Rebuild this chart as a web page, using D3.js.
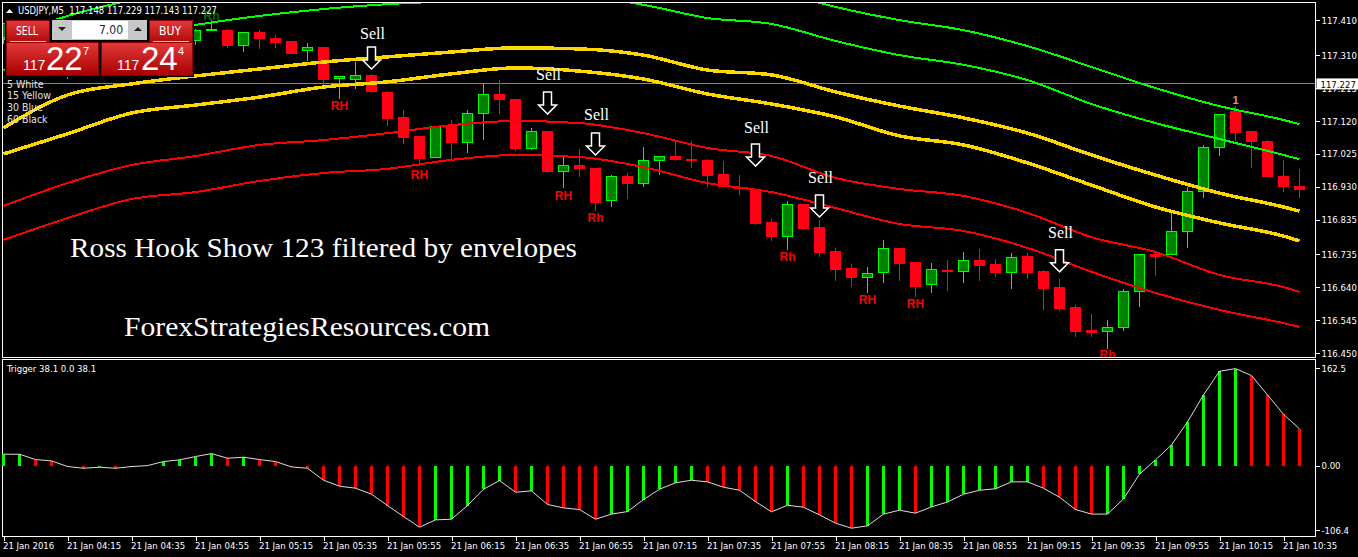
<!DOCTYPE html>
<html>
<head>
<meta charset="utf-8">
<title>Ross Hook Show 123</title>
<script src="https://cdn.jsdelivr.net/npm/d3@7"></script>
<style>
    html, body { margin: 0; padding: 0; background: #000; overflow: hidden; }
    svg { display: block; }
    .axis text { fill: #fff; font-family: "DejaVu Sans Condensed", "DejaVu Sans", sans-serif; font-size: 9.5px; }
    .axis line, .axis path { stroke: #fff; shape-rendering: crispEdges; }
</style>
</head>
<body>
<div id="chart"></div>
<script>
// candle values by bar (5 minute USDJPY bars)
var open = [117.354,117.368,117.325,117.354,117.296,117.310,117.345,117.310,117.359,117.322,117.345,117.345,117.351,117.380,117.382,117.339,117.374,117.359,117.348,117.322,117.331,117.244,117.241,117.250,117.201,117.129,117.074,117.016,117.103,117.057,117.143,117.195,117.181,117.042,117.091,116.973,116.993,116.984,116.892,116.959,116.941,117.005,117.019,117.010,117.005,116.967,116.927,116.921,116.826,116.788,116.878,116.814,116.745,116.696,116.670,116.682,116.751,116.711,116.647,116.690,116.687,116.719,116.705,116.682,116.728,116.687,116.641,116.581,116.517,116.512,116.523,116.627,116.736,116.734,116.800,116.918,117.045,117.146,117.091,117.062,116.961,116.930];
var high = [117.400,117.380,117.368,117.368,117.339,117.345,117.368,117.368,117.380,117.374,117.385,117.380,117.385,117.411,117.385,117.374,117.382,117.368,117.351,117.345,117.331,117.247,117.290,117.256,117.207,117.152,117.074,117.103,117.123,117.152,117.230,117.238,117.181,117.100,117.091,117.016,117.039,116.984,116.964,116.970,117.045,117.019,117.065,117.062,117.010,117.005,116.964,116.921,116.837,116.889,116.878,116.835,116.754,116.708,116.699,116.777,116.751,116.711,116.711,116.719,116.742,116.751,116.722,116.739,116.739,116.690,116.664,116.589,116.563,116.546,116.636,116.736,116.745,116.858,116.930,117.051,117.140,117.163,117.091,117.065,117.008,116.982];
var low = [117.342,117.331,117.313,117.296,117.241,117.290,117.293,117.296,117.296,117.310,117.328,117.325,117.340,117.380,117.331,117.319,117.328,117.331,117.313,117.293,117.221,117.183,117.212,117.201,117.106,117.054,116.990,117.016,117.010,117.028,117.065,117.140,117.034,117.036,116.970,116.927,116.959,116.860,116.872,116.895,116.930,116.964,117.005,116.984,116.930,116.927,116.907,116.820,116.774,116.748,116.806,116.728,116.659,116.641,116.624,116.653,116.659,116.612,116.624,116.630,116.653,116.659,116.670,116.636,116.664,116.575,116.572,116.497,116.497,116.462,116.514,116.584,116.673,116.734,116.754,116.898,117.019,117.062,116.984,116.961,116.915,116.898];
var close = [117.400,117.339,117.359,117.310,117.325,117.339,117.310,117.359,117.322,117.365,117.374,117.365,117.380,117.385,117.339,117.374,117.357,117.345,117.316,117.331,117.241,117.247,117.250,117.204,117.126,117.071,117.013,117.103,117.057,117.143,117.195,117.181,117.042,117.091,116.973,116.993,116.982,116.886,116.959,116.941,117.005,117.019,117.010,117.005,116.964,116.930,116.924,116.823,116.788,116.878,116.811,116.742,116.693,116.670,116.679,116.751,116.708,116.644,116.693,116.685,116.719,116.702,116.682,116.725,116.682,116.636,116.578,116.514,116.509,116.523,116.627,116.736,116.728,116.800,116.918,117.045,117.140,117.088,117.062,116.961,116.930,116.921];

// envelope bands, read at these bars
var bandBars = [0,4,8,12,16,20,24,28,32,36,40,44,48,52,56,60,64,68,72,76,80,81];
var greenUpper = [117.359,117.423,117.469,117.504,117.527,117.550,117.567,117.579,117.590,117.590,117.579,117.541,117.498,117.449,117.411,117.382,117.336,117.276,117.215,117.163,117.123,117.111];
var greenLower = [117.267,117.310,117.362,117.397,117.423,117.443,117.457,117.466,117.478,117.478,117.455,117.417,117.400,117.351,117.310,117.282,117.238,117.169,117.114,117.068,117.022,117.010];
var yellowUpper = [117.100,117.195,117.227,117.250,117.270,117.290,117.305,117.319,117.331,117.328,117.310,117.267,117.253,117.204,117.163,117.129,117.085,117.022,116.964,116.912,116.872,116.860];
var yellowLower = [117.025,117.083,117.143,117.166,117.189,117.218,117.233,117.256,117.273,117.264,117.241,117.198,117.169,117.132,117.077,117.051,116.999,116.935,116.872,116.826,116.788,116.774];
var redUpper = [116.875,116.941,116.993,117.019,117.051,117.065,117.085,117.108,117.120,117.114,117.085,117.042,117.019,116.956,116.924,116.904,116.855,116.785,116.742,116.676,116.641,116.627];
var redLower = [116.777,116.840,116.895,116.915,116.947,116.970,116.982,117.008,117.022,117.016,116.987,116.941,116.915,116.869,116.823,116.803,116.754,116.685,116.624,116.575,116.537,116.526];

// trigger indicator, one value per bar
var trigger = [19.4,19.4,10.5,8.3,-1,-3.9,-2.2,-3.9,-1.1,0.5,7.2,10,15.5,20.5,12.7,14.4,10.5,7.2,-1.7,-3.9,-23.8,-33.7,-37,-47,-65.8,-84,-101.8,-89.6,-88.5,-65.8,-38.7,-24.3,-43.7,-41.5,-64,-69.7,-72.4,-88.5,-80,-75.8,-55.9,-38.7,-28,-23.8,-26.5,-35.4,-40.4,-59.2,-76.3,-65.3,-68.6,-81.3,-95,-103.4,-99.5,-80,-73.5,-78.5,-68,-60,-47,-40.4,-38,-26.5,-26.5,-37,-52,-72.4,-80,-80,-54.7,-13.8,10,34.8,73,117.8,157,161.5,150,117.8,85.7,61.4];

// signals
var sellBars = [23,34,37,47,51,66];
var sellPrices = [117.270,117.140,117.022,116.990,116.843,116.685];
var sellTextPrices = [117.357,117.238,117.123,117.085,116.941,116.783];
var hookBars = [21,26,35,37,49,54,57,69];
var hookPrices = [117.152,116.953,116.892,116.829,116.716,116.592,116.581,116.434];
var hookLabels = ["RH","RH","RH","Rh","Rh","RH","RH","Rh"];

// tick labels
var priceTicks = [117.41,117.31,117.215,117.12,117.025,116.93,116.835,116.735,116.64,116.545,116.45];
var triggerTicks = [162.5,0,-106.4];
var timeBars = [0,4,8,12,16,20,24,28,32,36,40,44,48,52,56,60,64,68,72,76,80];
var timeLabels = ["21 Jan 2016","21 Jan 04:15","21 Jan 04:35","21 Jan 04:55","21 Jan 05:15","21 Jan 05:35","21 Jan 05:55","21 Jan 06:15","21 Jan 06:35","21 Jan 06:55","21 Jan 07:15","21 Jan 07:35","21 Jan 07:55","21 Jan 08:15","21 Jan 08:35","21 Jan 08:55","21 Jan 09:15","21 Jan 09:35","21 Jan 09:55","21 Jan 10:15","21 Jan 10:35"];
var lastPrice = 117.227;
var legendLines = ["5 White","15 Yellow","30 Blue","60 Black"];

var width = 1358, height = 557;
var left = 2.5, right = 1315.5, mainTop = 2.5, mainBottom = 357.5, subTop = 359.5, subBottom = 536.5;
var serif = '"Liberation Serif", "DejaVu Serif", serif';
var sans = '"DejaVu Sans Condensed", "DejaVu Sans", sans-serif';

var x = d3.scaleLinear().domain([0, 81]).range([3.5, 1299.5]);
var y = d3.scaleLinear().domain([116.45, 117.469]).range([353.3, 0]);
var yTrigger = d3.scaleLinear().domain([-106.4, 162.5]).range([530, 368]);

var svg = d3.select("#chart").append("svg")
    .attr("width", width).attr("height", height)
    .style("background", "#000");

// clip for the price window
svg.append("clipPath").attr("id", "mainClip").append("rect")
    .attr("x", left).attr("y", mainTop).attr("width", right - left).attr("height", mainBottom - mainTop);

var main = svg.append("g").attr("clip-path", "url(#mainClip)");

// current price line
main.append("line")
    .attr("x1", left).attr("x2", right)
    .attr("y1", y(lastPrice)).attr("y2", y(lastPrice))
    .attr("stroke", "#778899").attr("shape-rendering", "crispEdges");

// candles
var candles = main.selectAll("g.candle").data(d3.range(open.length)).enter()
    .append("g").attr("class", "candle");
candles.append("line")
    .attr("x1", function (i) { return x(i); })
    .attr("x2", function (i) { return x(i); })
    .attr("y1", function (i) { return y(high[i]); })
    .attr("y2", function (i) { return y(low[i]); })
    .attr("stroke", function (i) { return close[i] >= open[i] ? "#00ff00" : "#dc143c"; })
    .attr("shape-rendering", "crispEdges");
candles.append("rect")
    .attr("x", function (i) { return x(i) - 5; })
    .attr("width", 10)
    .attr("y", function (i) { return y(Math.max(open[i], close[i])); })
    .attr("height", function (i) { return Math.abs(y(open[i]) - y(close[i])); })
    .attr("fill", function (i) { return close[i] >= open[i] ? "#008000" : "#ff0015"; })
    .attr("stroke", function (i) { return close[i] >= open[i] ? "#00ff00" : "#ff0015"; })
    .attr("shape-rendering", "crispEdges");

// envelope bands
var bandLine = d3.line()
    .curve(d3.curveMonotoneX)
    .x(function (d, i) { return x(bandBars[i]); })
    .y(function (d) { return y(d); });
[[greenUpper, "#00ff00", 2], [greenLower, "#00ff00", 2],
 [yellowUpper, "#ffd700", 3.5], [yellowLower, "#ffd700", 3.5],
 [redUpper, "#ff0000", 2], [redLower, "#ff0000", 2]].forEach(function (band) {
    main.append("path")
        .attr("d", bandLine(band[0]))
        .attr("fill", "none")
        .attr("stroke", band[1])
        .attr("stroke-width", band[2])
        .attr("shape-rendering", "crispEdges");
});

// ross hook labels
main.selectAll("text.hook").data(hookBars).enter().append("text")
    .attr("class", "hook")
    .attr("x", function (d) { return x(d); })
    .attr("y", function (d, i) { return y(hookPrices[i]); })
    .attr("text-anchor", "middle")
    .attr("font-family", '"Liberation Sans", sans-serif')
    .attr("font-weight", "bold").attr("font-size", 12)
    .attr("fill", "#ff0000")
    .text(function (d, i) { return hookLabels[i]; });
main.append("text")
    .attr("x", x(13)).attr("y", y(117.411))
    .attr("text-anchor", "middle")
    .attr("font-family", '"Liberation Sans", sans-serif')
    .attr("font-weight", "bold").attr("font-size", 12)
    .attr("fill", "#006e00").text("Rh");
main.append("text")
    .attr("x", x(77)).attr("y", y(117.169))
    .attr("text-anchor", "middle")
    .attr("font-family", '"Liberation Sans", sans-serif')
    .attr("font-weight", "bold").attr("font-size", 11)
    .attr("fill", "#e0906a").text("1");

// sell arrows, hollow and pointing down, with the word above
var sells = main.selectAll("g.sell").data(sellBars).enter().append("g")
    .attr("class", "sell");
sells.append("path")
    .attr("transform", function (d, i) { return "translate(" + x(d) + "," + y(sellPrices[i]) + ")"; })
    .attr("d", "M0,0L-9,-9L-4,-9L-4,-22L4,-22L4,-9L9,-9Z")
    .attr("fill", "#000").attr("stroke", "#fff").attr("stroke-width", 1.5);
sells.append("text")
    .attr("x", function (d) { return x(d) + 1; })
    .attr("y", function (d, i) { return y(sellTextPrices[i]); })
    .attr("text-anchor", "middle")
    .attr("font-family", serif).attr("font-size", 16)
    .attr("fill", "#fff").text("Sell");

// captions over the chart
svg.append("text")
    .attr("x", 70).attr("y", 257)
    .attr("font-family", serif).attr("font-size", 27)
    .attr("textLength", 507).attr("lengthAdjust", "spacingAndGlyphs")
    .attr("fill", "#fff").text("Ross Hook Show 123 filtered by envelopes");
svg.append("text")
    .attr("x", 124).attr("y", 336)
    .attr("font-family", serif).attr("font-size", 28)
    .attr("textLength", 366).attr("lengthAdjust", "spacingAndGlyphs")
    .attr("fill", "#fff").text("ForexStrategiesResources.com");

// window frames
svg.append("rect").attr("x", left).attr("y", mainTop)
    .attr("width", right - left).attr("height", mainBottom - mainTop)
    .attr("fill", "none").attr("stroke", "#fff").attr("shape-rendering", "crispEdges");
svg.append("rect").attr("x", left).attr("y", subTop)
    .attr("width", right - left).attr("height", subBottom - subTop)
    .attr("fill", "none").attr("stroke", "#fff").attr("shape-rendering", "crispEdges");

// trigger histogram, green while rising and red while falling
svg.selectAll("rect.trigger").data(trigger).enter().append("rect")
    .attr("class", "trigger")
    .attr("x", function (d, i) { return x(i) - 1.5; })
    .attr("width", 3)
    .attr("y", function (d) { return Math.min(yTrigger(d), yTrigger(0)); })
    .attr("height", function (d) { return Math.abs(yTrigger(d) - yTrigger(0)); })
    .attr("fill", function (d, i) { return (i === 0 || d >= trigger[i - 1]) ? "#00ff00" : "#ff0000"; })
    .attr("shape-rendering", "crispEdges");
svg.append("path")
    .attr("d", d3.line()
        .x(function (d, i) { return x(i); })
        .y(function (d) { return yTrigger(d); })(trigger))
    .attr("fill", "none").attr("stroke", "#dcdcdc").attr("stroke-width", 1);

svg.append("text").attr("x", 7).attr("y", 372)
    .attr("font-family", sans).attr("font-size", 9.5)
    .attr("fill", "#fff").text("Trigger 38.1 0.0 38.1");

// axes
var priceAxis = svg.append("g").attr("class", "axis")
    .attr("transform", "translate(" + right + ",0)")
    .call(d3.axisRight(y).tickValues(priceTicks).tickFormat(d3.format(".3f")).tickSize(4).tickSizeOuter(0).tickPadding(2));
priceAxis.select("path").remove();

var triggerAxis = svg.append("g").attr("class", "axis")
    .attr("transform", "translate(" + right + ",0)")
    .call(d3.axisRight(yTrigger).tickValues(triggerTicks)
        .tickFormat(function (d) { return d === 0 ? "0.00" : d.toFixed(1); })
        .tickSize(4).tickPadding(2));
triggerAxis.select("path").remove();

var timeAxis = svg.append("g").attr("class", "axis")
    .attr("transform", "translate(0," + subBottom + ")")
    .call(d3.axisBottom(x).tickValues(timeBars)
        .tickFormat(function (d, i) { return timeLabels[i]; })
        .tickSize(4).tickPadding(2));
timeAxis.select("path").remove();
timeAxis.selectAll("text").attr("text-anchor", "start").attr("dx", -1);

// last price box on the axis
svg.append("rect").attr("x", right + 1).attr("y", y(lastPrice) - 5.5)
    .attr("width", width - right - 1).attr("height", 11).attr("fill", "#fff");
svg.append("text")
    .attr("x", right + 5).attr("y", y(lastPrice) + 4)
    .attr("font-family", sans).attr("font-size", 9.5)
    .attr("fill", "#000").text(d3.format(".3f")(lastPrice));

// one click trading panel
var defs = svg.append("defs");
var grad = defs.append("linearGradient").attr("id", "btnRed").attr("x1", 0).attr("x2", 0).attr("y1", 0).attr("y2", 1);
grad.append("stop").attr("offset", "0%").attr("stop-color", "#e23a3a");
grad.append("stop").attr("offset", "100%").attr("stop-color", "#a80000");

var panel = svg.append("g");
panel.append("rect").attr("x", 5).attr("y", 19).attr("width", 189).attr("height", 58).attr("fill", "#000");
function button(px, py, w, h) {
    panel.append("rect").attr("x", px + 0.5).attr("y", py + 0.5)
        .attr("width", w).attr("height", h)
        .attr("fill", "url(#btnRed)").attr("stroke", "#8c0000")
        .attr("shape-rendering", "crispEdges");
}
button(6, 20, 43, 26);
button(149, 20, 43, 26);
button(6, 42, 92, 33);
button(101, 42, 91, 33);
panel.append("rect").attr("x", 50).attr("y", 19).attr("width", 99).attr("height", 23).attr("fill", "#000");
panel.append("line").attr("x1", 10).attr("x2", 46).attr("y1", 41.5).attr("y2", 41.5).attr("stroke", "#ffb0b0");
panel.append("line").attr("x1", 153).attr("x2", 189).attr("y1", 41.5).attr("y2", 41.5).attr("stroke", "#ffb0b0");

// lot size box
panel.append("rect").attr("x", 52).attr("y", 20).attr("width", 95).attr("height", 20).attr("fill", "#c8c8c8");
panel.append("rect").attr("x", 72).attr("y", 21).attr("width", 56).attr("height", 18).attr("fill", "#fff");
panel.append("path").attr("d", "M58,27L66,27L62,31Z").attr("fill", "#222");
panel.append("path").attr("d", "M134,31L142,31L138,27Z").attr("fill", "#222");
panel.append("text").attr("x", 123).attr("y", 34)
    .attr("text-anchor", "end").attr("font-family", sans).attr("font-size", 12)
    .attr("fill", "#202040").text("7.00");

function panelText(px, py, size, str, weight) {
    panel.append("text").attr("x", px).attr("y", py)
        .attr("font-family", '"Liberation Sans", sans-serif')
        .attr("font-size", size).attr("font-weight", weight || "normal")
        .attr("fill", "#fff").text(str);
}
panel.append("text").attr("x", 16).attr("y", 35)
    .attr("font-family", sans).attr("font-size", 12).attr("textLength", 22).attr("lengthAdjust", "spacingAndGlyphs")
    .attr("fill", "#fff").text("SELL");
panel.append("text").attr("x", 159).attr("y", 35)
    .attr("font-family", sans).attr("font-size", 12).attr("textLength", 22).attr("lengthAdjust", "spacingAndGlyphs")
    .attr("fill", "#fff").text("BUY");
panelText(23, 70, 14, "117");
panelText(46, 70, 33, "22");
panelText(83, 55, 11, "7");
panelText(117, 70, 14, "117");
panelText(141, 70, 33, "24");
panelText(178, 55, 11, "4");

// symbol title
svg.append("path").attr("d", "M6,13L13,13L9.5,9Z").attr("fill", "#fff");
svg.append("text").attr("x", 18).attr("y", 14)
    .attr("font-family", sans).attr("font-size", 10)
    .attr("textLength", 199).attr("lengthAdjust", "spacingAndGlyphs")
    .attr("fill", "#fff").attr("xml:space", "preserve")
    .text("USDJPY,M5  117.148 117.229 117.143 117.227");

// note under the panel
svg.selectAll("text.note").data(legendLines).enter().append("text")
    .attr("class", "note")
    .attr("x", 7)
    .attr("y", function (d, i) { return 87.5 + i * 11.7; })
    .attr("font-family", sans).attr("font-size", 10.5)
    .attr("fill", "#e0e0e0")
    .text(function (d) { return d; });
</script>
</body>
</html>
